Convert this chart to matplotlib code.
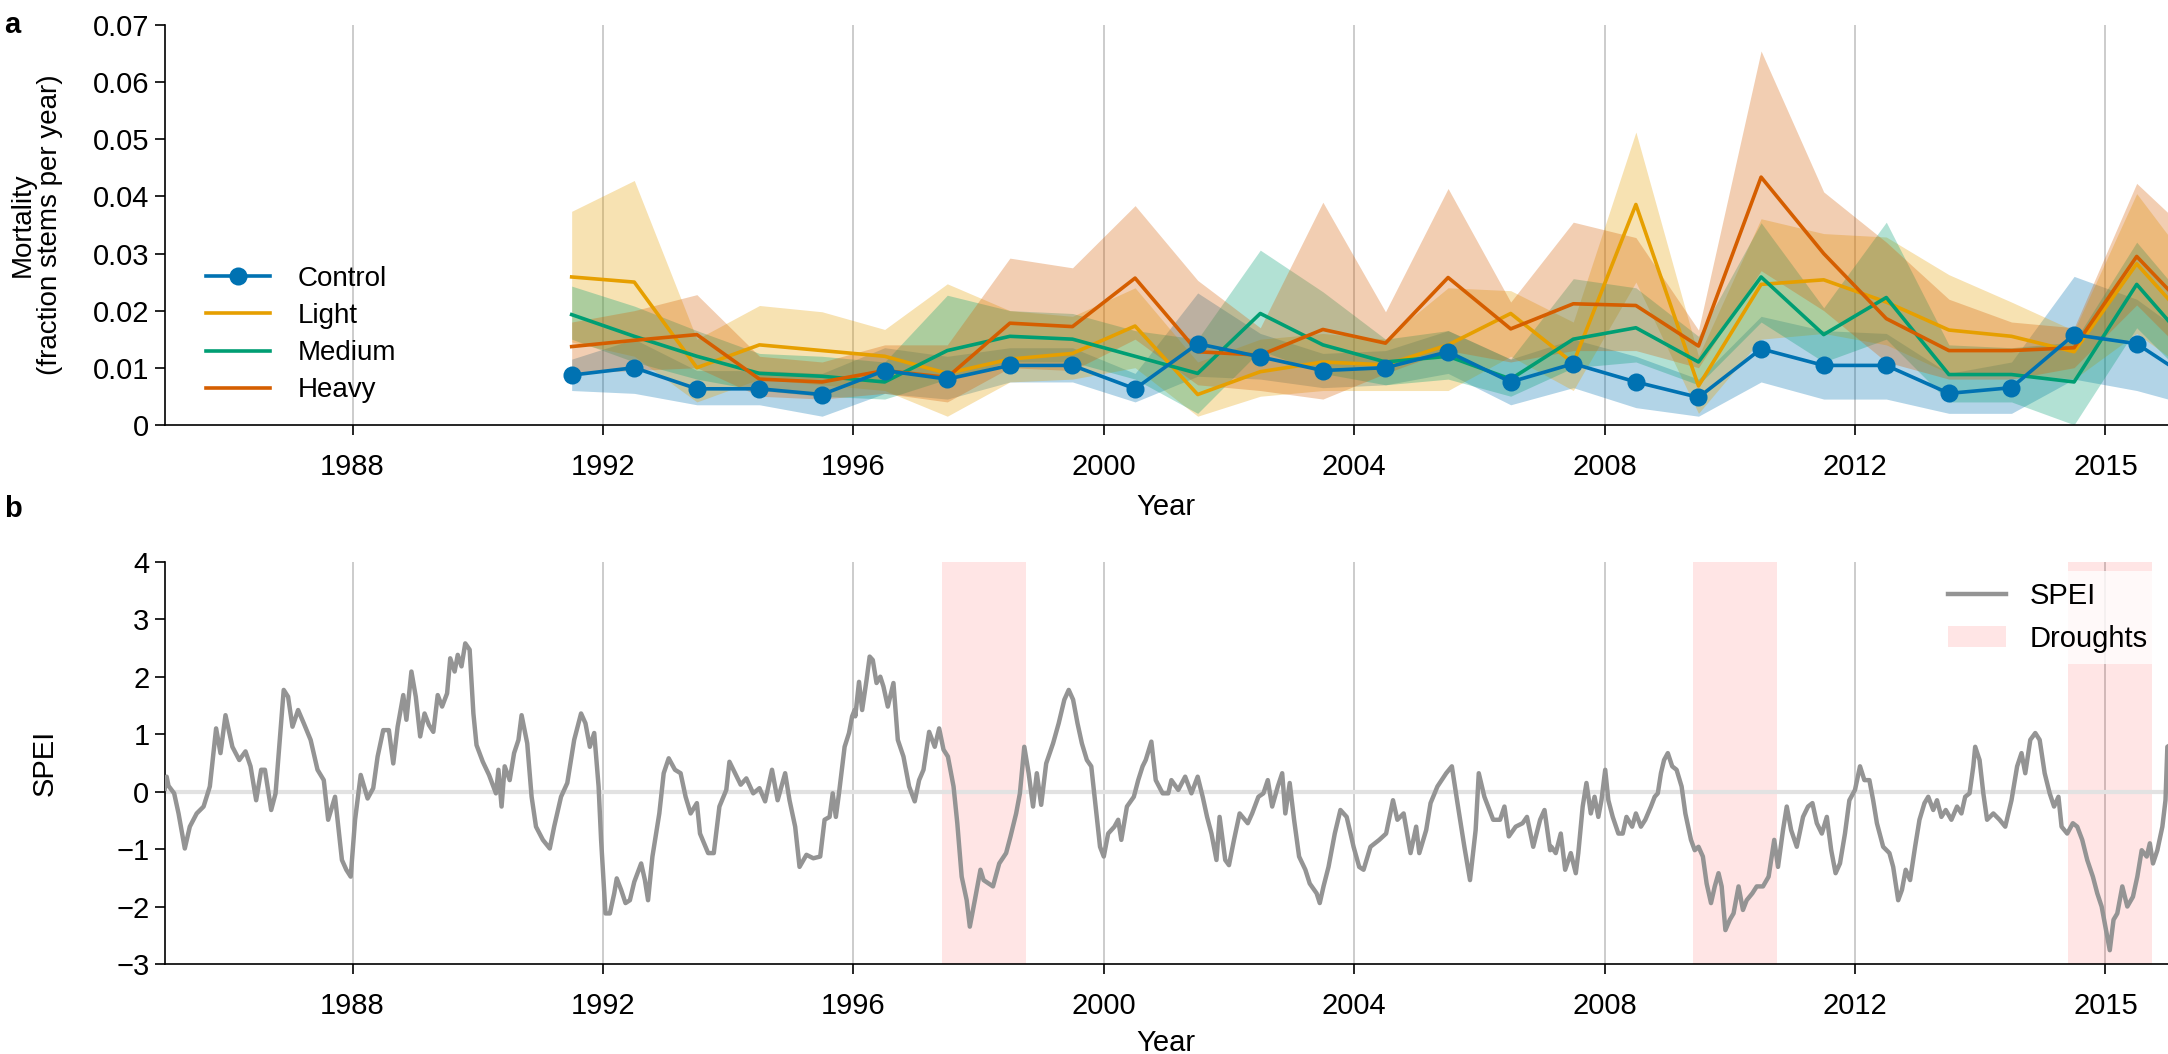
import matplotlib
matplotlib.use("Agg")
import matplotlib.pyplot as plt
from matplotlib.ticker import FuncFormatter

plt.rcParams['font.family'] = ['Liberation Sans', 'DejaVu Sans']
plt.rcParams['font.size'] = 10

# ---- panel a: mortality per treatment (mean and band) ----
years = [1991.5, 1992.5, 1993.5, 1994.5, 1995.5, 1996.5, 1997.5, 1998.5, 1999.5,
         2000.5, 2001.5, 2002.5, 2003.5, 2004.5, 2005.5, 2006.5, 2007.5, 2008.5,
         2009.5, 2010.5, 2011.5, 2012.5, 2013.5, 2014.5, 2015.5, 2016.5, 2017.5]

control = [0.0087, 0.0100, 0.0063, 0.0063, 0.0053, 0.0095, 0.0080, 0.0104, 0.0104,
           0.0063, 0.0142, 0.0119, 0.0095, 0.0100, 0.0128, 0.0075, 0.0107, 0.0075,
           0.0048, 0.0133, 0.0104, 0.0104, 0.0055, 0.0065, 0.0158, 0.0142, 0.0070]
control_lo = [0.0060, 0.0055, 0.0035, 0.0035, 0.0015, 0.0055, 0.0045, 0.0075, 0.0075,
              0.0040, 0.0085, 0.0080, 0.0065, 0.0070, 0.0090, 0.0035, 0.0065, 0.0030,
              0.0015, 0.0075, 0.0045, 0.0045, 0.0020, 0.0020, 0.0080, 0.0060, 0.0030]
control_hi = [0.0115, 0.0150, 0.0095, 0.0095, 0.0090, 0.0135, 0.0120, 0.0135, 0.0135,
              0.0090, 0.0231, 0.0160, 0.0125, 0.0130, 0.0165, 0.0115, 0.0150, 0.0120,
              0.0080, 0.0190, 0.0165, 0.0160, 0.0090, 0.0110, 0.0260, 0.0220, 0.0140]

light = [0.0259, 0.0250, 0.0100, 0.0140, 0.0130, 0.0120, 0.0090, 0.0115, 0.0125,
         0.0173, 0.0053, 0.0093, 0.0110, 0.0105, 0.0140, 0.0195, 0.0108, 0.0386,
         0.0068, 0.0246, 0.0254, 0.0215, 0.0166, 0.0155, 0.0128, 0.0282, 0.0160]
light_lo = [0.0145, 0.0120, 0.0040, 0.0080, 0.0070, 0.0060, 0.0015, 0.0075, 0.0080,
            0.0100, 0.0015, 0.0050, 0.0060, 0.0060, 0.0060, 0.0120, 0.0060, 0.0250,
            0.0020, 0.0150, 0.0160, 0.0140, 0.0090, 0.0090, 0.0080, 0.0160, 0.0080]
light_hi = [0.0374, 0.0428, 0.0150, 0.0209, 0.0198, 0.0167, 0.0247, 0.0200, 0.0190,
            0.0240, 0.0110, 0.0150, 0.0160, 0.0150, 0.0240, 0.0235, 0.0180, 0.0513,
            0.0120, 0.0361, 0.0335, 0.0329, 0.0263, 0.0215, 0.0165, 0.0405, 0.0260]

medium = [0.0193, 0.0155, 0.0120, 0.0090, 0.0085, 0.0075, 0.0130, 0.0155, 0.0150,
          0.0120, 0.0090, 0.0195, 0.0140, 0.0110, 0.0120, 0.0080, 0.0150, 0.0170,
          0.0110, 0.0259, 0.0158, 0.0223, 0.0088, 0.0088, 0.0075, 0.0246, 0.0120]
medium_lo = [0.0150, 0.0110, 0.0080, 0.0060, 0.0050, 0.0045, 0.0080, 0.0110, 0.0110,
             0.0080, 0.0020, 0.0130, 0.0090, 0.0070, 0.0080, 0.0050, 0.0100, 0.0110,
             0.0070, 0.0180, 0.0110, 0.0150, 0.0040, 0.0040, 0.0000, 0.0170, 0.0060]
medium_hi = [0.0243, 0.0208, 0.0165, 0.0125, 0.0120, 0.0110, 0.0227, 0.0200, 0.0195,
             0.0165, 0.0150, 0.0306, 0.0233, 0.0150, 0.0165, 0.0115, 0.0256, 0.0240,
             0.0155, 0.0354, 0.0205, 0.0355, 0.0140, 0.0135, 0.0145, 0.0320, 0.0190]

heavy = [0.0137, 0.0148, 0.0158, 0.0080, 0.0075, 0.0095, 0.0083, 0.0178, 0.0172,
         0.0257, 0.0128, 0.0122, 0.0167, 0.0143, 0.0258, 0.0168, 0.0212, 0.0209,
         0.0138, 0.0434, 0.0300, 0.0186, 0.0130, 0.0130, 0.0135, 0.0295, 0.0180]
heavy_lo = [0.0090, 0.0095, 0.0100, 0.0050, 0.0045, 0.0055, 0.0040, 0.0100, 0.0095,
            0.0150, 0.0070, 0.0060, 0.0045, 0.0090, 0.0130, 0.0110, 0.0130, 0.0130,
            0.0100, 0.0270, 0.0200, 0.0110, 0.0080, 0.0080, 0.0100, 0.0210, 0.0100]
heavy_hi = [0.0180, 0.0200, 0.0228, 0.0120, 0.0110, 0.0140, 0.0140, 0.0292, 0.0275,
            0.0384, 0.0253, 0.0170, 0.0390, 0.0198, 0.0414, 0.0215, 0.0355, 0.0328,
            0.0166, 0.0655, 0.0408, 0.0320, 0.0220, 0.0180, 0.0170, 0.0423, 0.0320]

# ---- panel b: SPEI ----
spei_year = [
    1985.00, 1985.03, 1985.06, 1985.15, 1985.22, 1985.32, 1985.40, 1985.51, 1985.62, 1985.72,
    1985.82, 1985.89, 1985.97, 1986.08, 1986.19, 1986.29, 1986.37, 1986.46, 1986.54, 1986.60,
    1986.70, 1986.77, 1986.90, 1986.97, 1987.04, 1987.13, 1987.22, 1987.33, 1987.44, 1987.54,
    1987.61, 1987.72, 1987.76, 1987.83, 1987.90, 1987.97, 1988.04, 1988.13, 1988.24, 1988.33,
    1988.40, 1988.49, 1988.58, 1988.65, 1988.72, 1988.81, 1988.86, 1988.94, 1989.01, 1989.08,
    1989.15, 1989.22, 1989.29, 1989.36, 1989.43, 1989.51, 1989.56, 1989.63, 1989.68, 1989.74,
    1989.80, 1989.87, 1989.93, 1989.98, 1990.08, 1990.18, 1990.29, 1990.33, 1990.38, 1990.43,
    1990.51, 1990.58, 1990.65, 1990.70, 1990.79, 1990.86, 1990.93, 1991.04, 1991.15, 1991.22,
    1991.33, 1991.43, 1991.54, 1991.65, 1991.72, 1991.79, 1991.86, 1991.93, 1991.97, 1992.04,
    1992.11, 1992.18, 1992.22, 1992.29, 1992.36, 1992.43, 1992.50, 1992.61, 1992.67, 1992.72,
    1992.79, 1992.90, 1992.97, 1993.05, 1993.15, 1993.24, 1993.32, 1993.40, 1993.50, 1993.55,
    1993.68, 1993.77, 1993.86, 1993.97, 1994.02, 1994.11, 1994.20, 1994.29, 1994.40, 1994.50,
    1994.59, 1994.70, 1994.79, 1994.91, 1994.98, 1995.07, 1995.14, 1995.25, 1995.36, 1995.47,
    1995.54, 1995.62, 1995.67, 1995.72, 1995.77, 1995.86, 1995.93, 1995.98, 1996.02,
    1996.03, 1996.09, 1996.14, 1996.21, 1996.26, 1996.31, 1996.37, 1996.43, 1996.48, 1996.55,
    1996.64, 1996.71, 1996.80, 1996.89, 1996.98, 1997.05, 1997.12, 1997.21, 1997.30, 1997.37,
    1997.44, 1997.51, 1997.60, 1997.66, 1997.73, 1997.81, 1997.86, 1997.94, 1998.03, 1998.08,
    1998.23, 1998.33, 1998.44, 1998.51, 1998.60, 1998.66, 1998.73, 1998.80, 1998.87, 1998.93,
    1999.00, 1999.08, 1999.19, 1999.28, 1999.37, 1999.44, 1999.51, 1999.58, 1999.65, 1999.73,
    1999.80, 1999.87, 1999.94, 2000.00, 2000.07, 2000.17, 2000.23, 2000.28, 2000.37, 2000.48,
    2000.55, 2000.62, 2000.67, 2000.76, 2000.83, 2000.94, 2001.03, 2001.08, 2001.19, 2001.30,
    2001.40, 2001.50, 2001.58, 2001.65, 2001.72, 2001.80, 2001.85, 2001.94, 2002.00, 2002.08,
    2002.17, 2002.30, 2002.37, 2002.47, 2002.55, 2002.62, 2002.69, 2002.78, 2002.85, 2002.90,
    2002.97, 2003.04, 2003.12, 2003.22, 2003.29, 2003.40, 2003.45, 2003.51, 2003.59, 2003.69,
    2003.78, 2003.88, 2003.99, 2004.08, 2004.15, 2004.26, 2004.40, 2004.51, 2004.62, 2004.69,
    2004.79, 2004.90, 2004.99, 2005.04, 2005.15, 2005.22, 2005.33, 2005.47, 2005.56, 2005.65,
    2005.76, 2005.85, 2005.94, 2005.99, 2006.08, 2006.22, 2006.33, 2006.40, 2006.47, 2006.58,
    2006.69, 2006.76, 2006.86, 2006.97, 2007.04, 2007.13,
    2007.15, 2007.22, 2007.30, 2007.37, 2007.46, 2007.54, 2007.58, 2007.65, 2007.71, 2007.78,
    2007.84, 2007.90, 2007.95, 2008.01, 2008.06, 2008.13, 2008.22, 2008.29, 2008.35, 2008.44,
    2008.50, 2008.58, 2008.65, 2008.74, 2008.80, 2008.85, 2008.90, 2008.95, 2009.01, 2009.08,
    2009.15, 2009.23, 2009.29, 2009.38, 2009.44, 2009.50, 2009.57, 2009.63, 2009.70, 2009.76,
    2009.82, 2009.87, 2009.93, 2010.00, 2010.06, 2010.14, 2010.21, 2010.27, 2010.36, 2010.43,
    2010.53, 2010.62, 2010.71, 2010.77, 2010.85, 2010.91, 2010.98, 2011.07, 2011.17, 2011.25,
    2011.32, 2011.39, 2011.47, 2011.55, 2011.62, 2011.69, 2011.76, 2011.84, 2011.91, 2012.00,
    2012.08, 2012.15, 2012.23, 2012.29, 2012.35, 2012.45, 2012.55, 2012.61, 2012.69, 2012.75,
    2012.81, 2012.88, 2012.96, 2013.03, 2013.11, 2013.17, 2013.25, 2013.31, 2013.38, 2013.45,
    2013.54, 2013.63, 2013.70, 2013.76, 2013.83, 2013.89, 2013.92, 2013.99, 2014.05, 2014.11,
    2014.21, 2014.31, 2014.40, 2014.50, 2014.59, 2014.66, 2014.72, 2014.80, 2014.88, 2014.95,
    2015.03, 2015.11, 2015.18, 2015.25, 2015.30, 2015.39, 2015.48, 2015.55, 2015.63, 2015.71,
    2015.80, 2015.87, 2015.94, 2016.02, 2016.07, 2016.13, 2016.19, 2016.27, 2016.35, 2016.44,
    2016.51, 2016.58, 2016.66, 2016.71, 2016.76, 2016.83, 2016.91, 2016.96, 2016.99, 2017.02]

spei_val = [
    0.05, 0.26, 0.10, -0.03, -0.38, -0.99, -0.61, -0.38, -0.26, 0.09,
    1.10, 0.67, 1.33, 0.78, 0.55, 0.70, 0.44, -0.15, 0.38, 0.38,
    -0.32, -0.03, 1.77, 1.65, 1.13, 1.42, 1.19, 0.90, 0.38, 0.20,
    -0.49, -0.09, -0.49, -1.19, -1.36, -1.48, -0.49, 0.29, -0.12, 0.06,
    0.61, 1.07, 1.07, 0.49, 1.13, 1.68, 1.25, 2.09, 1.65, 0.96,
    1.36, 1.16, 1.04, 1.68, 1.48, 1.71, 2.32, 2.09, 2.38, 2.18,
    2.58, 2.47, 1.36, 0.81, 0.52, 0.29, -0.03, 0.38, -0.26, 0.44,
    0.20, 0.67, 0.90, 1.33, 0.84, -0.09, -0.61, -0.84, -0.99, -0.61,
    -0.09, 0.15, 0.90, 1.36, 1.19, 0.78, 1.02, 0.09, -0.84, -2.12,
    -2.12, -1.77, -1.51, -1.71, -1.94, -1.89, -1.57, -1.25, -1.54, -1.89,
    -1.13, -0.38, 0.32, 0.58, 0.38, 0.32, -0.09, -0.38, -0.20, -0.73,
    -1.07, -1.07, -0.26, 0.03, 0.52, 0.32, 0.12, 0.23, -0.03, 0.06,
    -0.17, 0.38, -0.15, 0.32, -0.15, -0.61, -1.31, -1.10, -1.16, -1.13,
    -0.49, -0.44, -0.03, -0.44, -0.03, 0.78, 1.02, 1.31, 1.42,
    1.31, 1.91, 1.42, 1.94, 2.35, 2.29, 1.89, 2.00, 1.83, 1.48,
    1.89, 0.90, 0.61, 0.09, -0.17, 0.20, 0.38, 1.04, 0.78, 1.10,
    0.73, 0.61, 0.09, -0.55, -1.48, -1.89, -2.35, -1.89, -1.36, -1.54,
    -1.65, -1.25, -1.07, -0.78, -0.38, -0.03, 0.78, 0.32, -0.26, 0.32,
    -0.23, 0.49, 0.84, 1.19, 1.60, 1.77, 1.60, 1.19, 0.84, 0.55,
    0.44, -0.26, -0.96, -1.13, -0.73, -0.61, -0.49, -0.84, -0.26, -0.09,
    0.20, 0.44, 0.55, 0.87, 0.20, -0.03, -0.03, 0.20, 0.03, 0.26,
    -0.03, 0.26, -0.09, -0.44, -0.73, -1.19, -0.44, -1.19, -1.28, -0.84,
    -0.38, -0.55, -0.38, -0.09, -0.03, 0.20, -0.26, 0.09, 0.32, -0.38,
    0.15, -0.49, -1.13, -1.36, -1.60, -1.77, -1.94, -1.65, -1.31, -0.73,
    -0.32, -0.44, -0.96, -1.31, -1.36, -0.96, -0.84, -0.73, -0.15, -0.49,
    -0.38, -1.07, -0.61, -1.07, -0.67, -0.20, 0.09, 0.32, 0.44, -0.20,
    -0.96, -1.54, -0.67, 0.32, -0.09, -0.49, -0.49, -0.26, -0.78, -0.61,
    -0.55, -0.44, -0.96, -0.49, -0.32, -1.02,
    -0.96, -1.07, -0.73, -1.36, -1.07, -1.42, -1.07, -0.26, 0.15, -0.38,
    -0.09, -0.44, -0.15, 0.38, -0.15, -0.44, -0.73, -0.73, -0.44, -0.61,
    -0.38, -0.61, -0.49, -0.26, -0.09, -0.03, 0.32, 0.55, 0.67, 0.44,
    0.38, 0.09, -0.38, -0.84, -1.02, -0.96, -1.13, -1.60, -1.94, -1.65,
    -1.42, -1.65, -2.41, -2.23, -2.12, -1.65, -2.06, -1.89, -1.77, -1.65,
    -1.65, -1.48, -0.84, -1.31, -0.67, -0.26, -0.67, -0.96, -0.44, -0.26,
    -0.20, -0.55, -0.73, -0.44, -1.02, -1.42, -1.25, -0.73, -0.15, 0.03,
    0.44, 0.20, 0.20, -0.15, -0.55, -0.96, -1.07, -1.31, -1.89, -1.71,
    -1.36, -1.54, -0.96, -0.49, -0.20, -0.09, -0.32, -0.15, -0.44, -0.32,
    -0.49, -0.26, -0.38, -0.09, -0.03, 0.44, 0.78, 0.55, -0.03, -0.49,
    -0.38, -0.49, -0.61, -0.15, 0.44, 0.67, 0.32, 0.90, 1.02, 0.90,
    0.32, -0.03, -0.26, -0.09, -0.61, -0.73, -0.55, -0.61, -0.84, -1.19,
    -1.48, -1.77, -2.00, -2.47, -2.76, -2.23, -2.12, -1.65, -2.00, -1.83,
    -1.48, -1.02, -1.13, -0.90, -1.25, -1.02, -0.61, -0.15, 0.78, 0.80]

drought_start = [1997.42, 2009.42, 2015.41]
drought_end = [1998.75, 2010.75, 2016.75]

tick_years = [1988, 1992, 1996, 2000, 2004, 2008, 2012, 2016]
tick_labels = ['1988', '1992', '1996', '2000', '2004', '2008', '2012', '2015']

colors = {'Control': '#0072B2', 'Light': '#E69F00', 'Medium': '#009E73', 'Heavy': '#D55E00'}


def style_axis(ax):
    for side in ['top', 'right']:
        ax.spines[side].set_visible(False)
    for side in ['left', 'bottom']:
        ax.spines[side].set_linewidth(0.6)
    ax.tick_params(direction='out', length=3.5, width=0.6, labelsize=10.5)
    ax.tick_params(axis='x', pad=6.5)
    ax.tick_params(axis='y', pad=2)
    ax.grid(axis='x', color='#c4c4c4', linewidth=0.6)
    ax.set_axisbelow(True)
    ax.set_xlim(1985, 2017)
    ax.set_xticks(tick_years)
    ax.set_xticklabels(tick_labels)


fig = plt.figure(figsize=(10.84, 5.27), dpi=200)
ax1 = fig.add_axes([0.076, 0.597, 0.924, 0.379])
ax2 = fig.add_axes([0.076, 0.0854, 0.924, 0.3816])

# panel a
series = [('Control', control, control_lo, control_hi),
          ('Light', light, light_lo, light_hi),
          ('Medium', medium, medium_lo, medium_hi),
          ('Heavy', heavy, heavy_lo, heavy_hi)]
for name, mean, lo, hi in series:
    ax1.fill_between(years, lo, hi, color=colors[name], alpha=0.3, linewidth=0)
for name, mean, lo, hi in series:
    if name == 'Control':
        ax1.plot(years, mean, color=colors[name], lw=1.3, marker='o', ms=5.5,
                 label=name, zorder=5)
    else:
        ax1.plot(years, mean, color=colors[name], lw=1.3, label=name, zorder=4)

style_axis(ax1)
ax1.set_ylim(0, 0.07)
ax1.set_yticks([0, 0.01, 0.02, 0.03, 0.04, 0.05, 0.06, 0.07])
ax1.yaxis.set_major_formatter(FuncFormatter(lambda v, p: '0' if v == 0 else '%.2f' % v))
ax1.set_xlabel('Year', fontsize=10.5)
ax1.xaxis.set_label_coords(0.5, -0.172)
ax1.set_ylabel('Mortality\n(fraction stems per year)', fontsize=10, linespacing=1.05)
ax1.yaxis.set_label_coords(-0.051, 0.5)
ax1.legend(loc='upper left', bbox_to_anchor=(0.008, 0.46), frameon=False,
           handlelength=2.3, handletextpad=1.0, labelspacing=0.4, fontsize=10)

# panel b
for s, e in zip(drought_start, drought_end):
    ax2.axvspan(s, e, color='#ff0000', alpha=0.1, linewidth=0,
                label='Droughts' if s == drought_start[0] else None)
ax2.axhline(0, color='#e2e2e2', lw=1.5, zorder=1)
ax2.plot(spei_year, spei_val, color='#949494', lw=1.6, label='SPEI', zorder=3)

style_axis(ax2)
ax2.set_ylim(-3, 4)
ax2.set_yticks([-3, -2, -1, 0, 1, 2, 3, 4])
ax2.set_xlabel('Year', fontsize=10.5)
ax2.xaxis.set_label_coords(0.5, -0.162)
ax2.set_ylabel('SPEI', fontsize=10.5)
ax2.yaxis.set_label_coords(-0.053, 0.5)
h, l = ax2.get_legend_handles_labels()
order = [l.index('SPEI'), l.index('Droughts')]
leg = ax2.legend([h[i] for i in order], [l[i] for i in order], loc='upper right',
                 fontsize=10.5, handlelength=2.0, handletextpad=0.8, borderaxespad=0.3)
leg.get_frame().set_edgecolor('none')
leg.get_frame().set_alpha(0.8)

fig.text(0.002, 0.99, 'a', fontsize=10.5, fontweight='bold', va='top')
fig.text(0.002, 0.53, 'b', fontsize=10.5, fontweight='bold', va='top')

fig.savefig('out.png', dpi=200)
